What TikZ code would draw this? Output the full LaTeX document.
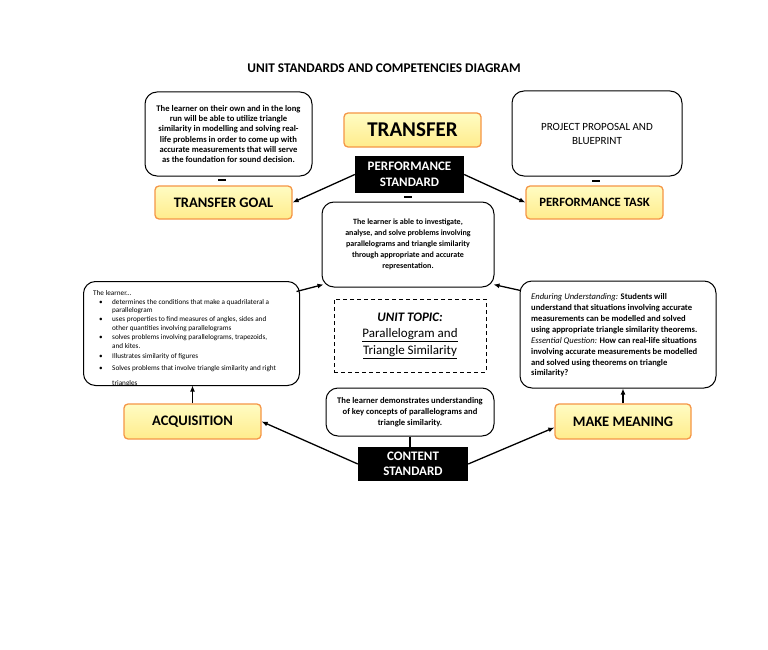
\documentclass[tikz,border=0pt]{standalone}
\usepackage{fontspec}
\setmainfont{Carlito}
\usetikzlibrary{arrows.meta,calc}
\definecolor{ybord}{RGB}{245,150,70}
\definecolor{yfilltop}{RGB}{255,252,195}
\definecolor{yfillbot}{RGB}{255,236,140}
\tikzset{
  wbox/.style={draw=black, line width=1pt, rounded corners=12pt, fill=white, inner sep=0pt, align=center},
  ybox/.style={draw=ybord, line width=1.3pt, rounded corners=4pt, top color=yfilltop, bottom color=yfillbot, inner sep=0pt, font=\bfseries\fontsize{14.5}{16}\selectfont},
  kbox/.style={fill=black, text=white, inner sep=0pt, align=center, font=\bfseries\fontsize{13}{15.5}\selectfont},
  conn/.style={line width=1.3pt, -{Latex[length=6pt,width=5pt]}},
  plain/.style={line width=1.3pt},
  smalltxt/.style={font=\fontsize{7.2}{9}\selectfont, inner sep=0pt, anchor=west},
}
\begin{document}
\begin{tikzpicture}[x=1pt,y=-1pt]
\useasboundingbox (0,0) rectangle (768,650);
\fill[white] (0,0) rectangle (768,650);

\node[font=\bfseries\fontsize{13.3}{16}\selectfont] (title) at (384,68) {UNIT STANDARDS AND COMPETENCIES DIAGRAM};

% top row
\node[wbox, minimum width=167pt, minimum height=84pt, font=\bfseries\fontsize{8.6}{10.3}\selectfont] (tl) at (228.5,134)
  {The learner on their own and in the long\\ run will be able to utilize triangle\\ similarity in modelling and solving real-\\life problems in order to come up with\\ accurate measurements that will serve\\ as the foundation for sound decision.};
\node[ybox, minimum width=137pt, minimum height=34pt, font=\bfseries\fontsize{21}{24}\selectfont] (tr) at (412.5,130) {TRANSFER};
\node[kbox, minimum width=109pt, minimum height=37pt] (ps) at (409.5,174.5) {PERFORMANCE\\STANDARD};
\node[wbox, minimum width=170pt, minimum height=85pt, font=\fontsize{11}{14}\selectfont] (pp) at (597,133.5) {PROJECT PROPOSAL AND\\BLUEPRINT};

\node[ybox, minimum width=137pt, minimum height=33pt] (tg) at (223.5,202.5) {TRANSFER GOAL};
\node[ybox, minimum width=137pt, minimum height=33pt, font=\bfseries\fontsize{12.7}{15}\selectfont] (pt) at (594.5,202.5) {PERFORMANCE TASK};

\draw[plain] (218,180) -- (226,180);
\draw[plain] (404,197) -- (412,197);
\draw[plain] (592,181) -- (600,181);

% center performance standard box
\node[wbox, minimum width=172pt, minimum height=85pt, font=\bfseries\fontsize{8}{11}\selectfont] (cb) at (408,244.5)
  {The learner is able to investigate,\\ analyse, and solve problems involving\\ parallelograms and triangle similarity\\ through appropriate and accurate\\ representation.};

\draw[conn] (ps.west) -- (tg.east);
\draw[conn] (ps.east) -- (pt.west);

% left box
\node[wbox, draw=none, minimum width=215pt, minimum height=103pt] (lb) at (191.5,333.5) {};
\begin{scope}
  \clip[rounded corners=12pt] (lb.south west) rectangle (lb.north east);
  \node[smalltxt] (l0) at (93,293) {The learner...};
  \node[smalltxt] (b1) at (99,303) {\textbullet};
  \node[smalltxt] (l1) at (112,303) {determines the conditions that make a quadrilateral a};
  \node[smalltxt] (l1b) at (112,311) {parallelogram};
  \node[smalltxt] (b2) at (99,320) {\textbullet};
  \node[smalltxt] (l2) at (112,320) {uses properties to find measures of angles, sides and};
  \node[smalltxt] (l2b) at (112,328.5) {other quantities involving parallelograms};
  \node[smalltxt] (b3) at (99,338) {\textbullet};
  \node[smalltxt] (l3) at (112,338) {solves problems involving parallelograms, trapezoids,};
  \node[smalltxt] (l3b) at (112,346.5) {and kites.};
  \node[smalltxt] (b4) at (99,357) {\textbullet};
  \node[smalltxt] (l4) at (112,357) {Illustrates similarity of figures};
  \node[smalltxt] (b5) at (99,368.5) {\textbullet};
  \node[smalltxt] (l5) at (112,368.5) {Solves problems that involve triangle similarity and right};
  \node[smalltxt] (l5b) at (112,383.5) {triangles};
\end{scope}
\draw[line width=1pt, rounded corners=12pt] (lb.south west) rectangle (lb.north east);

% right box
\node[wbox, minimum width=196pt, minimum height=107pt] (rb) at (618,334.5) {};
\node[inner sep=0pt, anchor=west, align=left, font=\bfseries\fontsize{8.6}{10.9}\selectfont] (rbt) at (531,335.5)
  {{\mdseries\itshape Enduring Understanding:} Students will\\
   understand that situations involving accurate\\
   measurements can be modelled and solved\\
   using appropriate triangle similarity theorems.\\
   {\mdseries\itshape Essential Question:} How can real-life situations\\
   involving accurate measurements be modelled\\
   and solved using theorems on triangle\\
   similarity?};

\coordinate (la) at ($(lb.north east)+(-3,10)$);
\coordinate (lc) at ($(cb.south west)+(2,-3)$);
\draw[conn] (la) -- (lc);
\coordinate (ra) at ($(rb.north west)+(1,10)$);
\coordinate (rc) at ($(cb.south east)+(-1,-3)$);
\draw[conn] (ra) -- (rc);

% unit topic
\node[draw=black, line width=1pt, dash pattern=on 4pt off 3pt, minimum width=152pt, minimum height=73pt, inner sep=0pt, align=center, font=\fontsize{13}{16.5}\selectfont] (ut) at (410,335.5)
  {\textbf{\textit{UNIT TOPIC:}}\\ \underline{Parallelogram and}\\ \underline{Triangle Similarity}};

% bottom
\node[wbox, minimum width=168pt, minimum height=48pt, font=\bfseries\fontsize{8.6}{11}\selectfont] (bb) at (410,412)
  {The learner demonstrates understanding\\ of key concepts of parallelograms and\\ triangle similarity.};
\node[kbox, minimum width=110pt, minimum height=34pt] (cs) at (413,464) {CONTENT\\STANDARD};
\node[ybox, minimum width=137pt, minimum height=35pt] (aq) at (192.5,421.5) {ACQUISITION};
\node[ybox, minimum width=136pt, minimum height=35pt] (mm) at (623,421.5) {MAKE MEANING};

\draw[plain] (bb.south) -- (bb.south |- cs.north);
\draw[conn] (cs.west) -- (aq.east);
\draw[conn] (cs.east) -- ($(mm.west)+(0,6)$);
\draw[conn] (aq.north) -- (aq.north |- lb.south);
\draw[conn] (mm.north) -- (mm.north |- rb.south);
\end{tikzpicture}
\end{document}
